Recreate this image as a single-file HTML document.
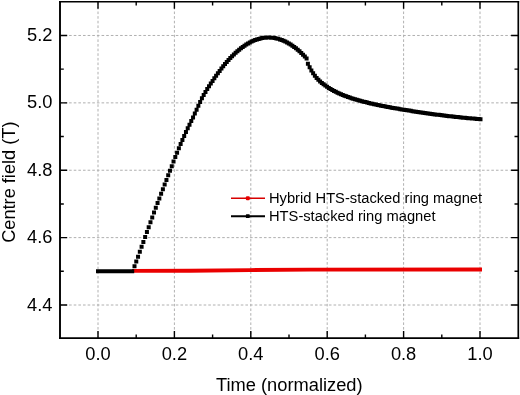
<!DOCTYPE html>
<html><head><meta charset="utf-8"><style>
html,body{margin:0;padding:0;background:#fff;}
body{width:520px;height:395px;overflow:hidden;}
svg{display:block;filter:blur(0.3px);font-family:"Liberation Sans",Arial,sans-serif;}
</style></head><body>
<svg width="520" height="395" viewBox="0 0 520 395">
<rect width="520" height="395" fill="#fff"/>
<path d="M98 2V337.5M174.4 2V337.5M250.8 2V337.5M327.2 2V337.5M403.6 2V337.5M480 2V337.5" stroke="#b0b0b0" stroke-width="1" stroke-dasharray="2.6 2.04" stroke-dashoffset="-0.22" fill="none"/>
<path d="M61 305H517M61 237.62H517M61 170.24H517M61 102.86H517M61 35.48H517" stroke="#b0b0b0" stroke-width="1" stroke-dasharray="2.6 2.04" stroke-dashoffset="1.2" fill="none"/>
<path d="M132 270.9 L190 270.7 L250 270.1 L310 269.6 L482 269.5" stroke="#ea0000" stroke-width="3.9" fill="none"/>

<path d="M96 269.3h4.0v4.0h-4.0zM97.8 269.3h4.0v4.0h-4.0zM99.6 269.3h4.0v4.0h-4.0zM101.4 269.3h4.0v4.0h-4.0zM103.2 269.3h4.0v4.0h-4.0zM105 269.3h4.0v4.0h-4.0zM106.8 269.3h4.0v4.0h-4.0zM108.6 269.3h4.0v4.0h-4.0zM110.4 269.3h4.0v4.0h-4.0zM112.2 269.3h4.0v4.0h-4.0zM114 269.3h4.0v4.0h-4.0zM115.8 269.3h4.0v4.0h-4.0zM117.6 269.3h4.0v4.0h-4.0zM119.4 269.3h4.0v4.0h-4.0zM121.2 269.3h4.0v4.0h-4.0zM123 269.3h4.0v4.0h-4.0zM124.8 269.3h4.0v4.0h-4.0zM126.6 269.3h4.0v4.0h-4.0zM128.4 269.3h4.0v4.0h-4.0zM130.2 269.3h4.0v4.0h-4.0zM132.5 264.32h4.0v4.0h-4.0zM134.27 259.5h4.0v4.0h-4.0zM136.05 254.65h4.0v4.0h-4.0zM137.82 249.77h4.0v4.0h-4.0zM139.6 244.86h4.0v4.0h-4.0zM141.37 239.94h4.0v4.0h-4.0zM143.15 235.02h4.0v4.0h-4.0zM144.92 230.09h4.0v4.0h-4.0zM146.69 225.18h4.0v4.0h-4.0zM148.47 220.29h4.0v4.0h-4.0zM150.24 215.43h4.0v4.0h-4.0zM152.02 210.61h4.0v4.0h-4.0zM153.79 205.83h4.0v4.0h-4.0zM155.56 201.11h4.0v4.0h-4.0zM157.34 196.42h4.0v4.0h-4.0zM159.11 191.77h4.0v4.0h-4.0zM160.89 187.15h4.0v4.0h-4.0zM162.66 182.55h4.0v4.0h-4.0zM164.44 177.96h4.0v4.0h-4.0zM166.21 173.37h4.0v4.0h-4.0zM167.98 168.77h4.0v4.0h-4.0zM169.76 164.19h4.0v4.0h-4.0zM171.53 159.62h4.0v4.0h-4.0zM173.31 155.1h4.0v4.0h-4.0zM175.08 150.65h4.0v4.0h-4.0zM176.86 146.29h4.0v4.0h-4.0zM178.63 142.04h4.0v4.0h-4.0zM180.4 137.91h4.0v4.0h-4.0zM182.18 133.91h4.0v4.0h-4.0zM183.95 130.03h4.0v4.0h-4.0zM185.73 126.28h4.0v4.0h-4.0zM187.5 122.66h4.0v4.0h-4.0zM189.28 119.07h4.0v4.0h-4.0zM191.05 115.4h4.0v4.0h-4.0zM192.82 111.55h4.0v4.0h-4.0zM194.6 107.63h4.0v4.0h-4.0zM196.37 103.72h4.0v4.0h-4.0zM198.15 99.93h4.0v4.0h-4.0zM199.92 96.37h4.0v4.0h-4.0zM201.69 93.06h4.0v4.0h-4.0zM203.47 89.96h4.0v4.0h-4.0zM205.24 87.04h4.0v4.0h-4.0zM207.02 84.25h4.0v4.0h-4.0zM208.79 81.57h4.0v4.0h-4.0zM210.57 78.95h4.0v4.0h-4.0zM212.34 76.36h4.0v4.0h-4.0zM214.11 73.81h4.0v4.0h-4.0zM215.89 71.31h4.0v4.0h-4.0zM217.66 68.88h4.0v4.0h-4.0zM219.44 66.53h4.0v4.0h-4.0zM221.21 64.26h4.0v4.0h-4.0zM222.99 62.08h4.0v4.0h-4.0zM224.76 59.98h4.0v4.0h-4.0zM226.53 57.96h4.0v4.0h-4.0zM228.31 56.03h4.0v4.0h-4.0zM230.08 54.19h4.0v4.0h-4.0zM231.86 52.43h4.0v4.0h-4.0zM233.63 50.76h4.0v4.0h-4.0zM235.41 49.18h4.0v4.0h-4.0zM237.18 47.67h4.0v4.0h-4.0zM238.95 46.26h4.0v4.0h-4.0zM240.73 44.93h4.0v4.0h-4.0zM242.5 43.69h4.0v4.0h-4.0zM244.28 42.54h4.0v4.0h-4.0zM246.05 41.47h4.0v4.0h-4.0zM247.82 40.49h4.0v4.0h-4.0zM249.6 39.6h4.0v4.0h-4.0zM251.37 38.8h4.0v4.0h-4.0zM253.15 38.08h4.0v4.0h-4.0zM254.92 37.45h4.0v4.0h-4.0zM256.7 36.91h4.0v4.0h-4.0zM258.47 36.46h4.0v4.0h-4.0zM260.24 36.1h4.0v4.0h-4.0zM262.02 35.83h4.0v4.0h-4.0zM263.79 35.64h4.0v4.0h-4.0zM265.57 35.55h4.0v4.0h-4.0zM267.34 35.54h4.0v4.0h-4.0zM269.12 35.63h4.0v4.0h-4.0zM270.89 35.8h4.0v4.0h-4.0zM272.66 36.07h4.0v4.0h-4.0zM274.44 36.42h4.0v4.0h-4.0zM276.21 36.87h4.0v4.0h-4.0zM277.99 37.4h4.0v4.0h-4.0zM279.76 38.03h4.0v4.0h-4.0zM281.54 38.75h4.0v4.0h-4.0zM283.31 39.56h4.0v4.0h-4.0zM285.08 40.46h4.0v4.0h-4.0zM286.86 41.46h4.0v4.0h-4.0zM288.63 42.54h4.0v4.0h-4.0zM290.41 43.72h4.0v4.0h-4.0zM292.18 44.99h4.0v4.0h-4.0zM293.95 46.36h4.0v4.0h-4.0zM295.73 47.81h4.0v4.0h-4.0zM297.5 49.36h4.0v4.0h-4.0zM299.28 51.01h4.0v4.0h-4.0zM301.05 52.74h4.0v4.0h-4.0zM302.83 54.57h4.0v4.0h-4.0zM304.6 56.5h4.0v4.0h-4.0zM305.9 61.75h4.0v4.0h-4.0zM307.64 65.33h4.0v4.0h-4.0zM309.39 68.49h4.0v4.0h-4.0zM311.13 71.28h4.0v4.0h-4.0zM312.87 73.73h4.0v4.0h-4.0zM314.62 75.88h4.0v4.0h-4.0zM316.36 77.78h4.0v4.0h-4.0zM318.1 79.45h4.0v4.0h-4.0zM319.85 80.95h4.0v4.0h-4.0zM321.59 82.31h4.0v4.0h-4.0zM323.33 83.56h4.0v4.0h-4.0zM325.08 84.75h4.0v4.0h-4.0zM326.82 85.88h4.0v4.0h-4.0zM328.56 86.94h4.0v4.0h-4.0zM330.31 87.95h4.0v4.0h-4.0zM332.05 88.91h4.0v4.0h-4.0zM333.79 89.82h4.0v4.0h-4.0zM335.54 90.67h4.0v4.0h-4.0zM337.28 91.49h4.0v4.0h-4.0zM339.03 92.26h4.0v4.0h-4.0zM340.77 92.99h4.0v4.0h-4.0zM342.51 93.68h4.0v4.0h-4.0zM344.26 94.34h4.0v4.0h-4.0zM346 94.97h4.0v4.0h-4.0zM347.74 95.57h4.0v4.0h-4.0zM349.49 96.15h4.0v4.0h-4.0zM351.23 96.7h4.0v4.0h-4.0zM352.97 97.23h4.0v4.0h-4.0zM354.72 97.75h4.0v4.0h-4.0zM356.46 98.25h4.0v4.0h-4.0zM358.2 98.73h4.0v4.0h-4.0zM359.95 99.2h4.0v4.0h-4.0zM361.69 99.66h4.0v4.0h-4.0zM363.43 100.11h4.0v4.0h-4.0zM365.18 100.55h4.0v4.0h-4.0zM366.92 100.97h4.0v4.0h-4.0zM368.66 101.38h4.0v4.0h-4.0zM370.41 101.79h4.0v4.0h-4.0zM372.15 102.18h4.0v4.0h-4.0zM373.89 102.56h4.0v4.0h-4.0zM375.64 102.94h4.0v4.0h-4.0zM377.38 103.3h4.0v4.0h-4.0zM379.12 103.66h4.0v4.0h-4.0zM380.87 104.01h4.0v4.0h-4.0zM382.61 104.35h4.0v4.0h-4.0zM384.35 104.68h4.0v4.0h-4.0zM386.1 105.01h4.0v4.0h-4.0zM387.84 105.33h4.0v4.0h-4.0zM389.58 105.65h4.0v4.0h-4.0zM391.33 105.96h4.0v4.0h-4.0zM393.07 106.27h4.0v4.0h-4.0zM394.82 106.57h4.0v4.0h-4.0zM396.56 106.87h4.0v4.0h-4.0zM398.3 107.16h4.0v4.0h-4.0zM400.05 107.46h4.0v4.0h-4.0zM401.79 107.75h4.0v4.0h-4.0zM403.53 108.03h4.0v4.0h-4.0zM405.28 108.31h4.0v4.0h-4.0zM407.02 108.59h4.0v4.0h-4.0zM408.76 108.87h4.0v4.0h-4.0zM410.51 109.14h4.0v4.0h-4.0zM412.25 109.41h4.0v4.0h-4.0zM413.99 109.68h4.0v4.0h-4.0zM415.74 109.95h4.0v4.0h-4.0zM417.48 110.21h4.0v4.0h-4.0zM419.22 110.46h4.0v4.0h-4.0zM420.97 110.72h4.0v4.0h-4.0zM422.71 110.97h4.0v4.0h-4.0zM424.45 111.22h4.0v4.0h-4.0zM426.2 111.46h4.0v4.0h-4.0zM427.94 111.7h4.0v4.0h-4.0zM429.68 111.94h4.0v4.0h-4.0zM431.43 112.17h4.0v4.0h-4.0zM433.17 112.41h4.0v4.0h-4.0zM434.91 112.63h4.0v4.0h-4.0zM436.66 112.86h4.0v4.0h-4.0zM438.4 113.08h4.0v4.0h-4.0zM440.14 113.3h4.0v4.0h-4.0zM441.89 113.51h4.0v4.0h-4.0zM443.63 113.72h4.0v4.0h-4.0zM445.37 113.93h4.0v4.0h-4.0zM447.12 114.13h4.0v4.0h-4.0zM448.86 114.33h4.0v4.0h-4.0zM450.61 114.53h4.0v4.0h-4.0zM452.35 114.72h4.0v4.0h-4.0zM454.09 114.91h4.0v4.0h-4.0zM455.84 115.1h4.0v4.0h-4.0zM457.58 115.28h4.0v4.0h-4.0zM459.32 115.46h4.0v4.0h-4.0zM461.07 115.64h4.0v4.0h-4.0zM462.81 115.81h4.0v4.0h-4.0zM464.55 115.98h4.0v4.0h-4.0zM466.3 116.14h4.0v4.0h-4.0zM468.04 116.31h4.0v4.0h-4.0zM469.78 116.46h4.0v4.0h-4.0zM471.53 116.62h4.0v4.0h-4.0zM473.27 116.77h4.0v4.0h-4.0zM475.01 116.91h4.0v4.0h-4.0zM476.76 117.06h4.0v4.0h-4.0zM478.5 117.2h4.0v4.0h-4.0z" fill="#000"/>
<path d="M98 338.2V331M98 1.6V8.8M136.2 338.2V334.4M136.2 1.6V5.4M174.4 338.2V331M174.4 1.6V8.8M212.6 338.2V334.4M212.6 1.6V5.4M250.8 338.2V331M250.8 1.6V8.8M289 338.2V334.4M289 1.6V5.4M327.2 338.2V331M327.2 1.6V8.8M365.4 338.2V334.4M365.4 1.6V5.4M403.6 338.2V331M403.6 1.6V8.8M441.8 338.2V334.4M441.8 1.6V5.4M480 338.2V331M480 1.6V8.8M60 305H67.2M518.3 305H511.1M60 271.31H63.8M518.3 271.31H514.5M60 237.62H67.2M518.3 237.62H511.1M60 203.93H63.8M518.3 203.93H514.5M60 170.24H67.2M518.3 170.24H511.1M60 136.55H63.8M518.3 136.55H514.5M60 102.86H67.2M518.3 102.86H511.1M60 69.17H63.8M518.3 69.17H514.5M60 35.48H67.2M518.3 35.48H511.1" stroke="#000" stroke-width="1.4" fill="none"/>
<g stroke="#000" fill="none">
<path d="M60 1.05V339.1" stroke-width="1.9"/>
<path d="M59.05 338.2H519.15" stroke-width="1.8"/>
<path d="M59.05 1.75H519.15" stroke-width="1.4"/>
<path d="M518.3 1.05V339.1" stroke-width="1.7"/>
</g>
<g font-size="18.3" fill="#000" text-anchor="middle"><text x="98" y="360">0.0</text><text x="174.4" y="360">0.2</text><text x="250.8" y="360">0.4</text><text x="327.2" y="360">0.6</text><text x="403.6" y="360">0.8</text><text x="480" y="360">1.0</text></g>
<g font-size="18.3" fill="#000" text-anchor="end"><text x="52.5" y="310.6">4.4</text><text x="52.5" y="243.22">4.6</text><text x="52.5" y="175.84">4.8</text><text x="52.5" y="108.46">5.0</text><text x="52.5" y="41.08">5.2</text></g>
<text x="289.3" y="390.5" font-size="18.3" text-anchor="middle">Time (normalized)</text>
<text transform="translate(14.6,182.2) rotate(-90)" font-size="18.2" text-anchor="middle">Centre field (T)</text>
<g>
<path d="M231 198.2H265" stroke="#d80000" stroke-width="1.6"/>
<rect x="245.8" y="196.2" width="4" height="4" rx="1.2" fill="#e60000"/>
<path d="M231 216.2H265" stroke="#000" stroke-width="2"/>
<rect x="245.9" y="214.3" width="3.8" height="3.8" rx="0.6" fill="#000"/>
<text x="269" y="203" font-size="14.7">Hybrid HTS-stacked ring magnet</text>
<text x="269" y="221" font-size="14.7">HTS-stacked ring magnet</text>
</g>
</svg>
</body></html>
